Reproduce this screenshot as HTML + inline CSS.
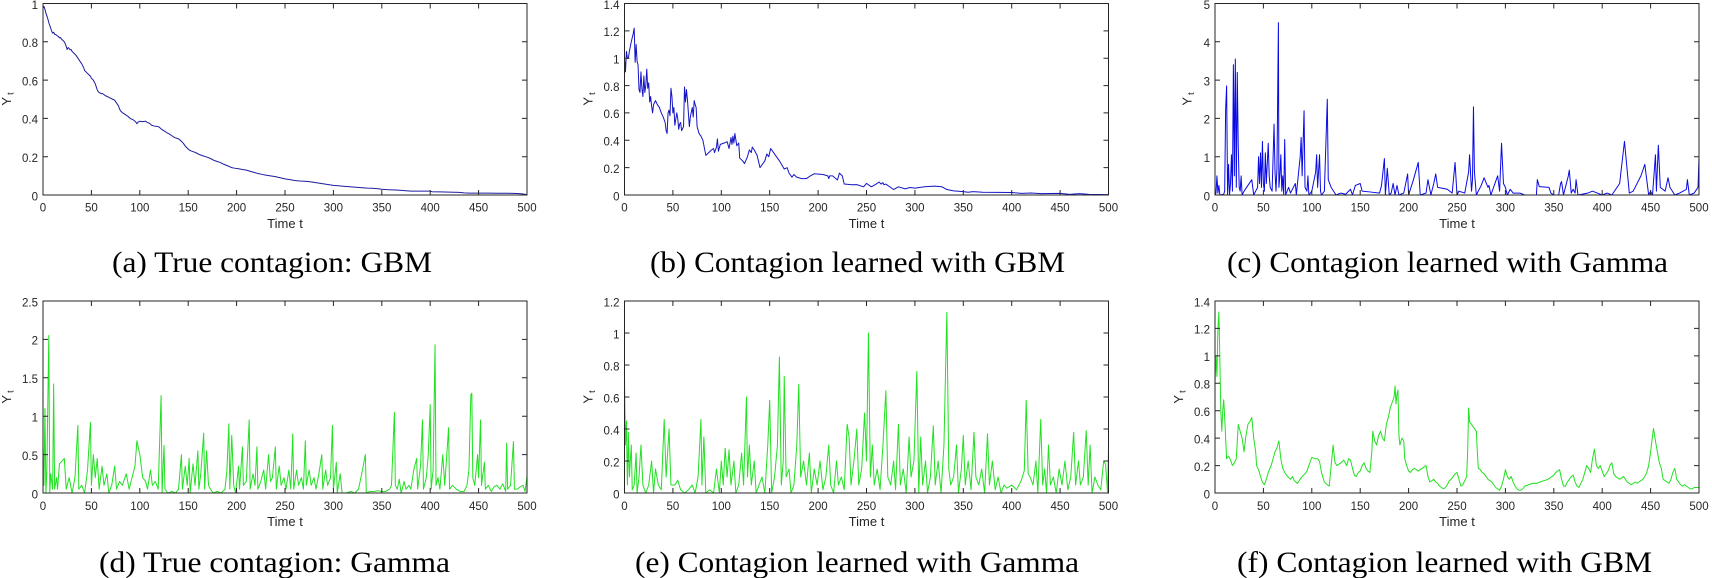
<!DOCTYPE html>
<html>
<head>
<meta charset="utf-8">
<style>
html,body{margin:0;padding:0;background:#fff;}
svg{display:block;}
.tk{font-family:"Liberation Sans",Arial,sans-serif;font-size:11.5px;fill:#262626;}
.lb{font-family:"Liberation Sans",Arial,sans-serif;font-size:13px;fill:#262626;}
.ax{fill:none;stroke:#262626;stroke-width:1;}
.tick{stroke:#262626;stroke-width:5;fill:none;}
.ser{fill:none;stroke-width:1;stroke-linejoin:round;}
</style>
</head>
<body>
<svg width="1712" height="578" viewBox="0 0 1712 578" xmlns="http://www.w3.org/2000/svg">
<rect width="1712" height="578" fill="#fff"/>

<!-- ================= PANEL A ================= -->
<g>
<polyline class="ser" stroke="#1c1ca0" stroke-width="1.2" vector-effect="non-scaling-stroke" transform="translate(43,195) scale(0.968,-191.5)" points="0,0.975 1,0.985 2,0.97 3,0.95 4,0.935 5,0.92 6,0.9 7,0.885 8,0.87 9,0.855 10,0.845 11,0.85 12,0.84 13,0.838 14,0.835 15,0.83 16,0.828 17,0.82 18,0.822 19,0.815 20,0.81 21,0.805 22,0.8 23,0.79 24,0.775 25,0.76 26,0.77 27,0.765 28,0.758 29,0.76 30,0.75 32,0.74 34,0.73 36,0.715 38,0.7 40,0.685 42,0.665 43,0.65 45,0.64 47,0.63 49,0.62 50,0.61 52,0.6 54,0.58 55,0.565 56,0.55 57,0.54 58,0.535 60,0.53 62,0.528 64,0.52 66,0.515 68,0.51 70,0.505 72,0.5 74,0.495 76,0.48 78,0.465 79,0.45 80,0.44 82,0.43 85,0.42 88,0.41 90,0.4 92,0.395 94,0.39 96,0.38 97,0.372 98,0.38 100,0.385 103,0.383 106,0.385 108,0.378 110,0.375 112,0.365 115,0.36 118,0.358 120,0.355 122,0.345 125,0.335 128,0.325 130,0.32 133,0.31 136,0.3 139,0.295 141,0.29 143,0.28 145,0.27 147,0.255 149,0.245 151,0.235 153,0.23 156,0.225 159,0.218 162,0.21 165,0.205 168,0.2 171,0.195 174,0.188 177,0.18 180,0.175 183,0.17 186,0.162 189,0.156 192,0.15 195,0.143 198,0.14 202,0.137 206,0.133 210,0.13 214,0.124 218,0.118 222,0.112 226,0.108 230,0.104 235,0.1 240,0.096 245,0.09 250,0.084 255,0.08 260,0.076 265,0.073 270,0.072 275,0.07 280,0.066 285,0.062 290,0.058 295,0.054 300,0.05 305,0.048 310,0.046 315,0.044 320,0.042 325,0.04 330,0.038 335,0.036 340,0.035 345,0.033 350,0.03 355,0.028 360,0.027 365,0.026 370,0.024 375,0.022 380,0.02 390,0.02 400,0.02 402,0.017 410,0.016 420,0.015 430,0.014 435,0.011 440,0.01 450,0.01 460,0.01 470,0.009 480,0.009 490,0.008 495,0.006 500,0.002"/>
<rect class="ax" x="43" y="3.5" width="484" height="191.5"/>
<line class="tick" x1="42.5" y1="192.5" x2="527.5" y2="192.5" stroke-dasharray="1 47.4"/>
<line class="tick" x1="42.5" y1="6" x2="527.5" y2="6" stroke-dasharray="1 47.4"/>
<line class="tick" x1="45.5" y1="195.5" x2="45.5" y2="3" stroke-dasharray="1 37.3"/>
<line class="tick" x1="524.5" y1="195.5" x2="524.5" y2="3" stroke-dasharray="1 37.3"/>
<g class="tk" text-anchor="middle">
<text x="43" y="211.5">0</text><text x="91.4" y="211.5">50</text><text x="139.8" y="211.5">100</text><text x="188.2" y="211.5">150</text><text x="236.6" y="211.5">200</text><text x="285" y="211.5">250</text><text x="333.4" y="211.5">300</text><text x="381.8" y="211.5">350</text><text x="430.2" y="211.5">400</text><text x="478.6" y="211.5">450</text><text x="527" y="211.5">500</text>
</g>
<g class="tk" text-anchor="end">
<text x="38" y="200.3">0</text><text x="38" y="162">0.2</text><text x="38" y="123.7">0.4</text><text x="38" y="85.4">0.6</text><text x="38" y="47.1">0.8</text><text x="38" y="8.8">1</text>
</g>
<text class="lb" x="285" y="228" text-anchor="middle">Time t</text>
<text class="lb" transform="translate(11,99) rotate(-90)" text-anchor="middle">Y<tspan font-size="9" dx="2" dy="2.5">t</tspan></text>
</g>

<!-- ================= PANEL B ================= -->
<g>
<polyline class="ser" stroke="#1414c4" vector-effect="non-scaling-stroke" transform="translate(624.5,195) scale(0.968,-136.786)" points="0,1.0 1,0.9 2,1.05 3,1.0 4,1.0 5,1.05 7,1.12 9,1.18 10,1.22 11,0.97 12,1.1 13,0.98 14,0.95 15,0.77 16,0.75 17,0.9 18,0.78 19,0.72 20,0.87 21,0.75 22,0.8 23,0.92 24,0.78 25,0.82 26,0.68 27,0.72 28,0.65 29,0.6 30,0.66 32,0.69 34,0.66 36,0.64 38,0.6 40,0.57 42,0.53 43,0.47 44,0.45 45,0.6 46,0.62 47,0.58 48,0.78 49,0.72 50,0.6 51,0.64 52,0.51 54,0.6 55,0.56 56,0.48 57,0.52 58,0.53 59,0.47 61,0.5 62,0.79 63,0.68 64,0.77 65,0.7 66,0.6 67,0.5 68,0.57 70,0.64 71,0.57 72,0.69 73,0.66 74,0.64 75,0.5 77,0.45 79,0.43 81,0.4 84,0.29 87,0.31 90,0.33 92,0.34 93,0.31 95,0.35 96,0.41 97,0.32 99,0.37 103,0.38 106,0.39 108,0.34 110,0.42 111,0.37 112,0.43 113,0.38 114,0.45 116,0.36 118,0.38 119,0.27 122,0.25 124,0.23 127,0.28 129,0.33 131,0.31 132,0.35 134,0.33 137,0.29 140,0.2 143,0.23 145,0.25 147,0.3 149,0.28 151,0.34 155,0.3 160,0.25 165,0.19 168,0.2 170,0.16 173,0.13 175,0.15 178,0.13 183,0.12 188,0.12 192,0.14 196,0.155 205,0.15 210,0.14 211,0.12 212,0.14 215,0.14 220,0.11 222,0.16 225,0.14 227,0.08 235,0.075 240,0.076 247,0.06 250,0.085 255,0.06 260,0.08 263,0.095 265,0.08 267,0.09 268,0.075 270,0.08 273,0.065 278,0.04 283,0.06 290,0.045 295,0.055 300,0.05 310,0.06 320,0.065 328,0.06 333,0.04 340,0.03 350,0.025 355,0.02 360,0.025 370,0.02 400,0.018 410,0.012 420,0.015 430,0.01 450,0.012 460,0.005 470,0.01 480,0.005 490,0.004 500,0.003"/>
<rect class="ax" x="624.5" y="3.5" width="484" height="191.5"/>
<line class="tick" x1="624" y1="192.5" x2="1109" y2="192.5" stroke-dasharray="1 47.4"/>
<line class="tick" x1="624" y1="6" x2="1109" y2="6" stroke-dasharray="1 47.4"/>
<line class="tick" x1="627" y1="195.5" x2="627" y2="3" stroke-dasharray="1 26.357"/>
<line class="tick" x1="1106" y1="195.5" x2="1106" y2="3" stroke-dasharray="1 26.357"/>
<g class="tk" text-anchor="middle">
<text x="624.5" y="211.5">0</text><text x="672.9" y="211.5">50</text><text x="721.3" y="211.5">100</text><text x="769.7" y="211.5">150</text><text x="818.1" y="211.5">200</text><text x="866.5" y="211.5">250</text><text x="914.9" y="211.5">300</text><text x="963.3" y="211.5">350</text><text x="1011.7" y="211.5">400</text><text x="1060.1" y="211.5">450</text><text x="1108.5" y="211.5">500</text>
</g>
<g class="tk" text-anchor="end">
<text x="619.5" y="200.3">0</text><text x="619.5" y="172.9">0.2</text><text x="619.5" y="145.6">0.4</text><text x="619.5" y="118.2">0.6</text><text x="619.5" y="90.9">0.8</text><text x="619.5" y="63.5">1</text><text x="619.5" y="36.2">1.2</text><text x="619.5" y="8.8">1.4</text>
</g>
<text class="lb" x="866.5" y="228" text-anchor="middle">Time t</text>
<text class="lb" transform="translate(592.5,99) rotate(-90)" text-anchor="middle">Y<tspan font-size="9" dx="2" dy="2.5">t</tspan></text>
</g>

<!-- ================= PANEL C ================= -->
<g>
<polyline class="ser" stroke="#0a0ae6" vector-effect="non-scaling-stroke" transform="translate(1215,195) scale(0.968,-38.3)" points="0,0 1,0.05 2,0.5 3,0.05 4,0.25 5,0 9,0.02 10,0.1 11,2.25 12,2.85 13,0 14,0.8 15,0 16,0.3 17,1.05 18,0.1 19,3.4 20,0.5 20.5,2.3 21,3.55 22,0.2 23,3.2 24,1.3 25,0.2 26,0.1 27,0.5 28,0 30,0.1 34,0.25 38,0.4 40,0 42,0.1 44,0.2 45,1.0 46,0.3 47,1.1 48,0.2 49,1.4 50,0.3 51,0.1 52,1.1 53,0.3 55,1.35 56,0.5 57,0.2 59,0.1 61,1.85 62,0.6 63,0.1 64,0.7 65.5,4.5 66,0.2 67,0.5 68,1.05 69,0.1 70,0.5 71,0 72,1.45 73,0 76,0.2 78,0.05 83,0.3 84,0 88,1.0 89,1.5 90,0.5 92,2.2 93,0.2 95,0.1 96,0.5 97,0 100,0.1 104,0.6 105,1.05 106,0.2 108,1.05 109,0.1 110,0 113,0.1 116,2.5 117,0.4 120,0.2 125,0 130,0.05 135,0.02 140,0.15 142,0 145,0.25 150,0.3 152,0.1 160,0.08 170,0.05 172,0.25 175,0.95 176,0 178,0.7 180,0 182,0.05 184,0.3 186,0 188,0.25 190,0 195,0.05 199,0.55 200,0 205,0.4 210,0.85 212,0 218,0.05 220,0.4 223,0 226,0.3 228,0.55 230,0.2 240,0.15 245,0.05 248,0.85 250,0 252,0.1 258,0.05 262,0.6 263,1.05 265,0.1 266,0.4 267,2.3 268,0.6 270,0 275,0.25 278,0.45 282,0.2 283,0.25 285,0 292,0.5 294,0.1 296,1.35 298,0.3 300,0.2 302,0 305,0.15 308,0.05 315,0.05 320,0 332,0 333,0.4 335,0.22 345,0.2 347,0.05 350,0 355,0 357,0.3 358,0.35 360,0 365,0.5 366,0.65 368,0.05 370,0.15 372,0.05 373,0.4 375,0 385,0.05 390,0.1 395,0.05 400,0 405,0.05 410,0 418,0.3 423,1.4 428,0.05 432,0.1 440,0.5 444,0.8 448,0 450,0.1 452,0 455,1.05 456,0.1 458,1.3 460,0.2 465,0.1 468,0.45 470,0.2 475,0 480,0.05 487,0.15 488,0.4 490,0 495,0.05 499,0.2 500,1.0"/>
<rect class="ax" x="1215" y="3.5" width="484" height="191.5"/>
<line class="tick" x1="1214.5" y1="192.5" x2="1699.5" y2="192.5" stroke-dasharray="1 47.4"/>
<line class="tick" x1="1214.5" y1="6" x2="1699.5" y2="6" stroke-dasharray="1 47.4"/>
<line class="tick" x1="1217.5" y1="195.5" x2="1217.5" y2="3" stroke-dasharray="1 37.3"/>
<line class="tick" x1="1696.5" y1="195.5" x2="1696.5" y2="3" stroke-dasharray="1 37.3"/>
<g class="tk" text-anchor="middle">
<text x="1215" y="211.5">0</text><text x="1263.4" y="211.5">50</text><text x="1311.8" y="211.5">100</text><text x="1360.2" y="211.5">150</text><text x="1408.6" y="211.5">200</text><text x="1457" y="211.5">250</text><text x="1505.4" y="211.5">300</text><text x="1553.8" y="211.5">350</text><text x="1602.2" y="211.5">400</text><text x="1650.6" y="211.5">450</text><text x="1699" y="211.5">500</text>
</g>
<g class="tk" text-anchor="end">
<text x="1210" y="200.3">0</text><text x="1210" y="162">1</text><text x="1210" y="123.7">2</text><text x="1210" y="85.4">3</text><text x="1210" y="47.1">4</text><text x="1210" y="8.8">5</text>
</g>
<text class="lb" x="1457" y="228" text-anchor="middle">Time t</text>
<text class="lb" transform="translate(1191.5,99) rotate(-90)" text-anchor="middle">Y<tspan font-size="9" dx="2" dy="2.5">t</tspan></text>
</g>

<!-- ================= PANEL D ================= -->
<g>
<polyline class="ser" stroke="#22e022" vector-effect="non-scaling-stroke" transform="translate(43,493) scale(0.968,-76.8)" points="0,0.6 1,0.1 2,1.1 3,0.0 4,0.3 6,2.05 7,0.0 8,0.25 10,0.05 11,1.42 12,0.05 14,0.2 15,0.05 17,0.38 20,0.42 22,0.45 24,0.05 27,0.2 30,0.0 33,0.2 36,0.88 37,0.05 40,0.1 43,0.0 46,0.3 49,0.92 50,0.1 52,0.5 54,0.2 56,0.45 58,0.05 61,0.35 63,0.1 66,0.25 68,0.0 71,0.1 74,0.35 76,0.05 79,0.15 82,0.1 86,0.25 89,0.05 92,0.2 95,0.35 97,0.68 100,0.5 103,0.2 106,0.15 108,0.05 111,0.3 113,0.1 116,0.15 119,0.05 122,1.27 123,0.0 125,0.62 126,0.05 129,0.0 133,0.02 137,0.0 140,0.05 143,0.5 144,0.05 147,0.35 149,0.1 151,0.45 152,0.0 155,0.38 157,0.1 160,0.55 161,0.05 163,0.25 166,0.78 167,0.05 169,0.55 171,0.1 173,0.05 176,0.0 180,0.02 184,0.0 188,0.05 190,0.3 192,0.9 193,0.05 195,0.75 197,0.1 199,0.0 202,0.35 203,0.05 206,0.6 207,0.1 210,0.15 213,0.95 214,0.05 217,0.25 219,0.1 221,0.6 222,0.05 225,0.15 228,0.3 230,0.05 233,0.5 235,0.15 237,0.2 240,0.6 241,0.05 244,0.35 246,0.1 249,0.2 251,0.05 254,0.3 256,0.05 258,0.77 259,0.05 262,0.3 264,0.1 267,0.2 269,0.05 271,0.68 272,0.1 275,0.3 277,0.1 280,0.2 282,0.05 285,0.25 288,0.5 289,0.05 292,0.3 294,0.1 297,0.2 299,0.88 300,0.05 303,0.4 304,0.0 307,0.25 309,0.0 313,0.0 318,0.02 322,0.0 326,0.05 330,0.3 333,0.5 334,0.0 338,0.02 342,0.02 346,0.03 350,0.02 354,0.02 358,0.05 360,0.1 363,1.05 364,0.1 366,0.05 368,0.18 370,0.0 373,0.15 375,0.05 378,0.1 380,0.05 383,0.3 386,0.45 387,0.05 390,0.35 392,0.95 393,0.05 396,0.2 398,0.5 400,1.15 401,0.05 403,0.3 405,1.93 406,0.1 408,0.2 410,0.05 413,0.5 415,0.1 419,0.85 420,0.05 423,0.1 427,0.05 431,0.02 435,0.02 438,0.1 440,0.3 442,1.28 443,1.3 444,0.2 446,0.1 449,0.5 450,0.2 452,0.95 453,0.1 456,0.4 457,0.05 460,0.1 463,0.02 466,0.08 469,0.1 472,0.05 475,0.12 478,0.02 479,0.65 480,0.05 483,0.1 486,0.67 487,0.05 490,0.05 493,0.08 496,0.1 498,0.02 500,0.22"/>
<rect class="ax" x="43" y="301" width="484" height="192"/>
<line class="tick" x1="42.5" y1="490.5" x2="527.5" y2="490.5" stroke-dasharray="1 47.4"/>
<line class="tick" x1="42.5" y1="303.5" x2="527.5" y2="303.5" stroke-dasharray="1 47.4"/>
<line class="tick" x1="45.5" y1="493.5" x2="45.5" y2="300.5" stroke-dasharray="1 37.4"/>
<line class="tick" x1="524.5" y1="493.5" x2="524.5" y2="300.5" stroke-dasharray="1 37.4"/>
<g class="tk" text-anchor="middle">
<text x="43" y="510">0</text><text x="91.4" y="510">50</text><text x="139.8" y="510">100</text><text x="188.2" y="510">150</text><text x="236.6" y="510">200</text><text x="285" y="510">250</text><text x="333.4" y="510">300</text><text x="381.8" y="510">350</text><text x="430.2" y="510">400</text><text x="478.6" y="510">450</text><text x="527" y="510">500</text>
</g>
<g class="tk" text-anchor="end">
<text x="38" y="498.3">0</text><text x="38" y="459.9">0.5</text><text x="38" y="421.5">1</text><text x="38" y="383.1">1.5</text><text x="38" y="344.7">2</text><text x="38" y="306.3">2.5</text>
</g>
<text class="lb" x="285" y="526" text-anchor="middle">Time t</text>
<text class="lb" transform="translate(11,397) rotate(-90)" text-anchor="middle">Y<tspan font-size="9" dx="2" dy="2.5">t</tspan></text>
</g>

<!-- ================= PANEL E ================= -->
<g>
<polyline class="ser" stroke="#22e022" vector-effect="non-scaling-stroke" transform="translate(624.5,493) scale(0.968,-160)" points="0,0.72 1,0.3 2,0.45 3,0.05 4,0.38 5,0.1 7,0.3 8,0.02 10,0.05 12,0.25 13,0.0 15,0.1 17,0.3 19,0.05 22,0.0 25,0.05 28,0.2 30,0.0 32,0.15 35,0.05 38,0.02 41,0.46 43,0.1 46,0.4 48,0.05 52,0.05 55,0.08 58,0.02 62,0.0 66,0.02 70,0.05 73,0.0 76,0.1 79,0.46 80,0.05 82,0.35 84,0.0 88,0.02 92,0.0 95,0.15 98,0.0 100,0.2 102,0.05 104,0.28 106,0.1 108,0.27 110,0.05 113,0.2 115,0.0 118,0.05 121,0.25 123,0.05 126,0.6 127,0.1 129,0.3 131,0.05 134,0.2 136,0.0 139,0.05 142,0.1 145,0.0 148,0.3 150,0.58 152,0.0 155,0.1 158,0.3 160,0.85 162,0.05 164,0.2 165,0.73 167,0.1 170,0.15 172,0.0 175,0.05 178,0.3 180,0.68 182,0.1 185,0.2 188,0.05 191,0.25 193,0.0 196,0.15 199,0.05 202,0.2 205,0.02 208,0.1 211,0.3 213,0.05 216,0.0 219,0.2 221,0.05 224,0.1 227,0.02 230,0.43 232,0.35 234,0.05 237,0.2 240,0.4 242,0.05 245,0.15 248,0.5 250,0.2 252,1.0 254,0.1 256,0.3 258,0.05 261,0.15 264,0.02 267,0.3 270,0.64 272,0.1 275,0.05 278,0.2 280,0.02 283,0.43 285,0.05 288,0.15 291,0.0 294,0.35 296,0.1 299,0.2 302,0.76 304,0.0 306,0.35 308,0.05 311,0.2 313,0.0 316,0.1 319,0.42 321,0.05 324,0.2 327,0.0 330,0.3 333,1.13 335,0.15 337,0.05 340,0.1 343,0.3 345,0.0 348,0.15 350,0.36 352,0.05 355,0.2 358,0.02 361,0.38 363,0.1 366,0.05 369,0.15 372,0.0 375,0.37 377,0.05 380,0.2 383,0.02 386,0.1 389,0.0 392,0.05 395,0.03 400,0.05 405,0.02 410,0.08 413,0.14 415,0.58 417,0.12 419,0.1 422,0.05 425,0.2 427,0.0 430,0.46 432,0.05 434,0.15 436,0.0 438,0.3 440,0.05 443,0.1 446,0.0 449,0.15 452,0.05 455,0.2 458,0.02 461,0.1 464,0.38 466,0.05 469,0.2 471,0.05 474,0.1 477,0.39 479,0.05 481,0.3 483,0.0 486,0.1 489,0.05 492,0.02 495,0.2 497,0.18 499,0.0 500,0.27"/>
<rect class="ax" x="624.5" y="301" width="484" height="192"/>
<line class="tick" x1="624" y1="490.5" x2="1109" y2="490.5" stroke-dasharray="1 47.4"/>
<line class="tick" x1="624" y1="303.5" x2="1109" y2="303.5" stroke-dasharray="1 47.4"/>
<line class="tick" x1="627" y1="493.5" x2="627" y2="300.5" stroke-dasharray="1 31"/>
<line class="tick" x1="1106" y1="493.5" x2="1106" y2="300.5" stroke-dasharray="1 31"/>
<g class="tk" text-anchor="middle">
<text x="624.5" y="510">0</text><text x="672.9" y="510">50</text><text x="721.3" y="510">100</text><text x="769.7" y="510">150</text><text x="818.1" y="510">200</text><text x="866.5" y="510">250</text><text x="914.9" y="510">300</text><text x="963.3" y="510">350</text><text x="1011.7" y="510">400</text><text x="1060.1" y="510">450</text><text x="1108.5" y="510">500</text>
</g>
<g class="tk" text-anchor="end">
<text x="619.5" y="498.3">0</text><text x="619.5" y="466.3">0.2</text><text x="619.5" y="434.3">0.4</text><text x="619.5" y="402.3">0.6</text><text x="619.5" y="370.3">0.8</text><text x="619.5" y="338.3">1</text><text x="619.5" y="306.3">1.2</text>
</g>
<text class="lb" x="866.5" y="526" text-anchor="middle">Time t</text>
<text class="lb" transform="translate(592.5,397) rotate(-90)" text-anchor="middle">Y<tspan font-size="9" dx="2" dy="2.5">t</tspan></text>
</g>

<!-- ================= PANEL F ================= -->
<g>
<polyline class="ser" stroke="#22e022" vector-effect="non-scaling-stroke" transform="translate(1215,493) scale(0.968,-137.143)" points="0,0.8 1,1.0 2,0.85 3,1.2 4,1.32 5,0.98 6,0.6 7,0.45 8,0.6 9,0.68 10,0.55 11,0.4 12,0.25 14,0.27 16,0.24 18,0.2 20,0.22 22,0.25 24,0.5 26,0.45 28,0.4 30,0.3 32,0.42 34,0.5 36,0.52 38,0.55 40,0.4 42,0.3 43,0.2 45,0.17 47,0.12 49,0.08 51,0.06 53,0.1 55,0.15 58,0.2 60,0.25 62,0.3 64,0.33 66,0.38 68,0.25 70,0.18 72,0.15 75,0.12 78,0.1 80,0.12 82,0.09 85,0.07 88,0.1 90,0.12 93,0.14 95,0.16 98,0.22 100,0.26 103,0.25 106,0.25 108,0.23 110,0.15 113,0.08 116,0.06 118,0.05 120,0.2 122,0.35 124,0.22 126,0.2 128,0.21 130,0.22 133,0.24 136,0.2 138,0.25 140,0.24 142,0.18 144,0.13 146,0.12 148,0.15 150,0.16 152,0.2 154,0.22 156,0.18 158,0.16 160,0.15 162,0.3 163,0.45 165,0.38 167,0.35 169,0.42 171,0.45 173,0.4 175,0.38 177,0.5 179,0.55 181,0.62 183,0.66 185,0.7 186,0.78 187,0.65 188,0.72 189,0.75 190,0.42 191,0.35 193,0.4 195,0.38 196,0.25 198,0.2 200,0.16 202,0.15 204,0.17 206,0.18 208,0.17 210,0.16 212,0.17 214,0.18 216,0.19 218,0.2 220,0.12 222,0.08 224,0.09 226,0.1 228,0.08 230,0.07 232,0.05 234,0.04 236,0.03 238,0.04 240,0.06 242,0.09 244,0.1 246,0.12 248,0.14 250,0.15 252,0.1 254,0.05 256,0.06 258,0.09 260,0.12 261,0.3 262,0.62 263,0.52 265,0.5 267,0.48 269,0.46 270,0.45 271,0.3 272,0.18 274,0.17 276,0.15 278,0.14 280,0.12 282,0.1 284,0.09 286,0.08 288,0.06 290,0.04 292,0.03 294,0.02 296,0.05 298,0.1 300,0.17 302,0.12 304,0.1 306,0.12 308,0.08 310,0.05 312,0.03 314,0.02 316,0.02 318,0.03 320,0.05 324,0.06 328,0.07 332,0.07 336,0.08 340,0.09 344,0.1 348,0.12 350,0.13 352,0.15 354,0.16 356,0.17 358,0.1 360,0.05 362,0.05 364,0.08 366,0.1 368,0.12 370,0.13 372,0.08 374,0.05 376,0.04 378,0.07 380,0.1 382,0.15 384,0.2 386,0.18 388,0.15 390,0.25 392,0.32 394,0.2 396,0.18 398,0.2 400,0.16 402,0.12 404,0.14 406,0.16 408,0.2 410,0.22 412,0.14 414,0.12 416,0.11 418,0.1 420,0.11 422,0.12 424,0.1 426,0.08 428,0.07 430,0.06 432,0.07 434,0.08 436,0.07 438,0.08 440,0.09 442,0.1 444,0.12 446,0.15 448,0.2 450,0.3 452,0.42 453,0.47 455,0.38 457,0.3 459,0.22 461,0.18 463,0.1 465,0.09 467,0.08 469,0.07 471,0.1 473,0.15 475,0.18 477,0.1 479,0.08 481,0.06 483,0.05 485,0.06 487,0.05 489,0.04 491,0.03 493,0.03 495,0.04 497,0.04 500,0.04"/>
<rect class="ax" x="1215" y="301" width="484" height="192"/>
<line class="tick" x1="1214.5" y1="490.5" x2="1699.5" y2="490.5" stroke-dasharray="1 47.4"/>
<line class="tick" x1="1214.5" y1="303.5" x2="1699.5" y2="303.5" stroke-dasharray="1 47.4"/>
<line class="tick" x1="1217.5" y1="493.5" x2="1217.5" y2="300.5" stroke-dasharray="1 26.4286"/>
<line class="tick" x1="1696.5" y1="493.5" x2="1696.5" y2="300.5" stroke-dasharray="1 26.4286"/>
<g class="tk" text-anchor="middle">
<text x="1215" y="510">0</text><text x="1263.4" y="510">50</text><text x="1311.8" y="510">100</text><text x="1360.2" y="510">150</text><text x="1408.6" y="510">200</text><text x="1457" y="510">250</text><text x="1505.4" y="510">300</text><text x="1553.8" y="510">350</text><text x="1602.2" y="510">400</text><text x="1650.6" y="510">450</text><text x="1699" y="510">500</text>
</g>
<g class="tk" text-anchor="end">
<text x="1210" y="498.3">0</text><text x="1210" y="470.9">0.2</text><text x="1210" y="443.4">0.4</text><text x="1210" y="416">0.6</text><text x="1210" y="388.6">0.8</text><text x="1210" y="361.2">1</text><text x="1210" y="333.7">1.2</text><text x="1210" y="306.3">1.4</text>
</g>
<text class="lb" x="1457" y="526" text-anchor="middle">Time t</text>
<text class="lb" transform="translate(1183,397) rotate(-90)" text-anchor="middle">Y<tspan font-size="9" dx="2" dy="2.5">t</tspan></text>
</g>

<!-- ================= CAPTIONS ================= -->
<g font-family="'Liberation Serif', 'Times New Roman', 'DejaVu Serif', serif" font-size="30" fill="#000" style="font-family:'Liberation Serif','Times New Roman','DejaVu Serif',serif;font-size:30px;">
<text x="112" y="272" textLength="320" lengthAdjust="spacingAndGlyphs" style="font-family:'Liberation Serif',serif;">(a) True contagion: GBM</text>
<text x="650" y="272" textLength="415" lengthAdjust="spacingAndGlyphs" style="font-family:'Liberation Serif',serif;">(b) Contagion learned with GBM</text>
<text x="1227" y="272" textLength="441" lengthAdjust="spacingAndGlyphs" style="font-family:'Liberation Serif',serif;">(c) Contagion learned with Gamma</text>
<text x="99" y="572" textLength="351" lengthAdjust="spacingAndGlyphs" style="font-family:'Liberation Serif',serif;">(d) True contagion: Gamma</text>
<text x="635" y="572" textLength="444" lengthAdjust="spacingAndGlyphs" style="font-family:'Liberation Serif',serif;">(e) Contagion learned with Gamma</text>
<text x="1237" y="572" textLength="415" lengthAdjust="spacingAndGlyphs" style="font-family:'Liberation Serif',serif;">(f) Contagion learned with GBM</text>
</g>
</svg>
</body>
</html>
